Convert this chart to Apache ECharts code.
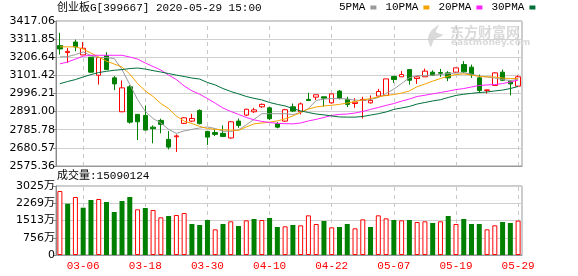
<!DOCTYPE html>
<html>
<head>
<meta charset="utf-8">
<script src="https://cdn.jsdelivr.net/npm/echarts@6/dist/echarts.min.js"></script>
<style>
    html, body { margin: 0; padding: 0; background: #fff; }
    #chart { width: 578px; height: 276px; }
</style>
</head>
<body>
<div id="chart"></div>
<script>
// 交易日
var dates = ['03-03','03-04','03-05','03-06','03-09','03-10','03-11','03-12','03-13','03-16',
    '03-17','03-18','03-19','03-20','03-23','03-24','03-25','03-26','03-27','03-30',
    '03-31','04-01','04-02','04-03','04-07','04-08','04-09','04-10','04-13','04-14',
    '04-15','04-16','04-17','04-20','04-21','04-22','04-23','04-24','04-27','04-28',
    '04-29','04-30','05-06','05-07','05-08','05-11','05-12','05-13','05-14','05-15',
    '05-18','05-19','05-20','05-21','05-22','05-25','05-26','05-27','05-28','05-29']

var opens = [3274,3234,3295,3220,3207,3102,3216,3087,2890,3035,2875,2869,2801,2840,2730,2745,2823,2836,2898,2776,
    2770,2765,2738,2836,2871,2890,2919,2913,2821,2836,2919,2890,2962,2975,2977,2942,3010,2962,2938,2956,
    2942,2981,2985,3095,3093,3135,3083,3093,3120,3118,3116,3120,3164,3149,3087,3014,3043,3120,3068,3039]
var closes = [3255,3241,3267,3259,3120,3205,3135,3052,3029,2830,2832,2784,2792,2817,2685,2750,2855,2851,2821,2743,
    2759,2747,2832,2811,2905,2901,2933,2850,2801,2902,2894,2936,2956,2989,2969,2994,2967,2933,2946,2962,
    2956,3008,3081,3077,3106,3073,3093,3126,3102,3114,3087,3145,3122,3106,3014,3017,3116,3073,3052,3093]
var lows = [3222,3174,3241,3220,3116,3048,3133,3016,2889,2821,2726,2782,2707,2765,2672,2657,2819,2830,2817,2697,
    2749,2743,2734,2797,2865,2884,2913,2842,2794,2832,2888,2875,2952,2958,2919,2938,2962,2917,2913,2851,
    2938,2981,2981,3058,3093,3048,3052,3093,3100,3093,3068,3116,3116,3087,3000,2996,3040,3068,2985,3038]
var highs = [3348,3261,3309,3295,3208,3207,3236,3097,3072,3045,2876,2927,2811,2850,2778,2759,2859,2878,2904,2776,
    2788,2811,2836,2851,2907,2913,2938,2919,2830,2907,2938,2944,3000,2989,2977,2994,3016,2977,2969,2977,
    2985,3023,3081,3095,3126,3136,3097,3141,3131,3139,3126,3145,3184,3164,3106,3019,3120,3135,3072,3101]

var ma5 = [3209,3210,3222,3238,3216,3205,3205,3199,3135,3048,2961,2892,2851,2825,2788,2765,2779,2788,2796,2802,
    2793,2778,2776,2785,2814,2846,2879,2879,2879,2879,2874,2886,2909,2956,2964,2967,2967,2964,2958,2956,
    2961,2973,2996,3022,3054,3088,3100,3100,3103,3106,3112,3115,3116,3109,3097,3092,3086,3077,3072,3077]
var ma10 = [3267,3267,3267,3254,3231,3208,3184,3167,3150,3109,3054,3011,2979,2938,2909,2865,2836,2822,2805,2793,
    2788,2785,2784,2782,2802,2820,2825,2830,2837,2849,2866,2886,2906,2918,2924,2928,2933,2941,2950,2959,
    2967,2976,2985,2990,2999,3011,3036,3051,3068,3083,3097,3106,3110,3103,3095,3093,3092,3086,3083,3083]
var ma20 = [3168,3179,3196,3213,3218,3218,3218,3218,3218,3208,3196,3173,3153,3132,3103,3077,3040,3012,2992,2967,
    2940,2912,2892,2875,2857,2843,2834,2828,2823,2821,2820,2825,2837,2846,2857,2869,2875,2877,2883,2892,
    2904,2915,2927,2938,2952,2964,2979,2986,2994,3002,3010,3019,3025,3034,3043,3046,3048,3054,3063,3074]
var ma30 = [3053,3066,3077,3092,3106,3118,3125,3131,3135,3141,3144,3138,3129,3121,3112,3103,3095,3086,3080,3060,
    3046,3025,3008,2994,2979,2968,2959,2944,2933,2924,2909,2895,2886,2877,2872,2866,2860,2859,2859,2863,
    2871,2879,2889,2904,2912,2921,2935,2944,2953,2960,2973,2985,2992,2997,3002,3005,3011,3016,3025,3037]

// 成交量(万)
var volumes = [2806,2249,2543,2074,2411,2455,2324,1885,2367,2543,2003,2060,1973,1652,1710,1754,1841,1359,1315,1534,
    1125,1359,1477,1271,1520,1578,1534,1622,1227,1257,1315,1301,1739,1359,1490,1213,1227,1359,1169,1563,
    1227,1739,1607,1534,1520,1534,1446,1477,1403,1477,1710,1359,1578,1359,1359,1125,1301,1446,1403,1509]
var volUp = [1,0,1,0,0,1,0,0,0,0,1,0,1,1,0,1,1,0,0,0,1,0,1,0,1,0,1,0,0,1,
    0,1,1,1,0,1,0,0,1,1,0,1,1,0,1,0,1,1,0,1,0,1,0,0,0,1,1,0,0,1]

var yTicks = ['2575.36','2680.57','2785.78','2891.00','2996.21','3101.42','3206.64','3311.85','3417.06']
var volTicks = ['0','756万','1513万','2269万','3025万']
var lastVolume = '15090124'
var titleText = '创业板G[399667] 2020-05-29 15:00'

var yMin = +yTicks[0]
var yMax = +yTicks[yTicks.length - 1]
var yStep = (yMax - yMin) / (yTicks.length - 1)
var volMax = 3025
var volStep = volMax / (volTicks.length - 1)

var kData = []
var volData = []
for (var i = 0; i < dates.length; i++) {
    kData.push([opens[i], closes[i], lows[i], highs[i]])
    volData.push({
        value: volumes[i],
        itemStyle: volUp[i]
            ? { color: '#ffffff', borderColor: '#ff0000', borderWidth: 1 }
            : { color: '#008000' }
    })
}

function showLabel(index) {
    return (index - 3) % 8 === 0
}
var vLines = dates.filter(function(d, i) { return showLabel(i) }).map(function(d) { return { xAxis: d } })

var monoFont = "'Liberation Mono', 'Noto Sans CJK SC', monospace"
var labelFont = "'DejaVu Sans', 'Noto Sans CJK SC', sans-serif"

function maSeries(name, data, color) {
    return {
        name: name,
        type: 'line',
        data: data,
        symbol: 'none',
        xAxisIndex: 0,
        yAxisIndex: 0,
        lineStyle: { color: color, width: 1 },
        itemStyle: { color: color },
        z: 7
    }
}

// 竖向虚线
function dashLines(axisIdx) {
    return {
        type: 'line',
        data: [],
        xAxisIndex: axisIdx,
        yAxisIndex: axisIdx,
        silent: true,
        z: 1,
        markLine: {
            silent: true,
            z: 1,
            symbol: 'none',
            label: { show: false },
            lineStyle: { type: [4, 4], color: '#c8c8c8', width: 1 },
            data: vLines
        }
    }
}

var myChart = echarts.init(document.getElementById('chart'))
var option = {
    animation: false,
    backgroundColor: '#ffffff',
    title: [
        {
            text: titleText,
            left: 57,
            top: 3,
            padding: 0,
            textStyle: { fontSize: 11, fontWeight: 'normal', color: '#000', fontFamily: monoFont }
        },
        {
            text: '成交量:' + lastVolume,
            left: 57,
            top: 171,
            padding: 0,
            textStyle: { fontSize: 11, fontWeight: 'normal', color: '#000', fontFamily: monoFont }
        }
    ],
    legend: {
        data: ['5PMA', '10PMA', '20PMA', '30PMA'],
        left: 339,
        top: 2,
        padding: 0,
        align: 'right',
        icon: 'rect',
        itemWidth: 6,
        itemHeight: 4,
        itemGap: 9,
        textStyle: { fontSize: 11, color: '#000', fontFamily: monoFont }
    },
    graphic: [
        {
            type: 'polygon',
            left: 428,
            top: 25,
            z: 0,
            silent: true,
            shape: {
                points: [[14, 0], [6, 6], [3, 14], [6, 22], [9, 15], [18, 10], [11, 7]],
                smooth: 0.3
            },
            style: { fill: '#dadada' }
        },
        {
            type: 'text',
            left: 450,
            top: 25,
            z: 0,
            silent: true,
            style: { text: '东方财富网', font: 'bold 14px "Noto Sans CJK SC"', fill: '#dadada' }
        },
        {
            type: 'text',
            left: 451,
            top: 38,
            z: 0,
            silent: true,
            style: { text: 'eastmoney.com', font: 'bold 9px "DejaVu Sans"', fill: '#dadada' }
        }
    ],
    grid: [
        { left: 56, right: 56, top: 21, height: 145, show: true, borderColor: '#999', borderWidth: 1 },
        { left: 56, right: 56, top: 186, height: 69, show: true, borderColor: '#999', borderWidth: 1 }
    ],
    xAxis: [
        {
            type: 'category',
            gridIndex: 0,
            data: dates,
            boundaryGap: true,
            axisLine: { lineStyle: { color: '#999' } },
            axisTick: { show: false },
            axisLabel: { show: false },
            splitLine: { show: false }
        },
        {
            type: 'category',
            gridIndex: 1,
            data: dates,
            boundaryGap: true,
            axisLine: { lineStyle: { color: '#999' } },
            axisTick: { show: false },
            axisLabel: {
                interval: showLabel,
                color: '#ff0000',
                fontSize: 11,
                fontFamily: monoFont,
                margin: 6
            },
            splitLine: { show: false }
        }
    ],
    yAxis: [
        {
            type: 'value',
            gridIndex: 0,
            min: yMin,
            max: yMax,
            interval: yStep,
            axisLine: { show: true, lineStyle: { color: '#888' } },
            axisTick: { show: true, length: 3, lineStyle: { color: '#888' } },
            axisLabel: {
                color: '#000',
                fontSize: 11,
                fontFamily: labelFont,
                margin: 1,
                formatter: function(v) {
                    return yTicks[Math.round((v - yMin) / yStep)]
                }
            },
            splitLine: { show: true, lineStyle: { color: '#d0d0d0', width: 1 } }
        },
        {
            type: 'value',
            gridIndex: 1,
            min: 0,
            max: volMax,
            interval: volStep,
            axisLine: { show: true, lineStyle: { color: '#888' } },
            axisTick: { show: true, length: 3, lineStyle: { color: '#888' } },
            axisLabel: {
                color: '#000',
                fontSize: 11,
                fontFamily: labelFont,
                margin: 1,
                formatter: function(v) {
                    return volTicks[Math.round(v / volStep)]
                }
            },
            splitLine: { show: true, lineStyle: { color: '#d0d0d0', width: 1 } }
        }
    ],
    series: [
        dashLines(0),
        dashLines(1),
        {
            name: 'K',
            type: 'candlestick',
            data: kData,
            xAxisIndex: 0,
            yAxisIndex: 0,
            barWidth: 5,
            z: 6,
            itemStyle: {
                color: '#ffffff',
                color0: '#008000',
                borderColor: '#ff0000',
                borderColor0: '#008000',
                borderWidth: 1
            }
        },
        maSeries('5PMA', ma5, '#9a9a9a'),
        maSeries('10PMA', ma10, '#f5a400'),
        maSeries('20PMA', ma20, '#ff22ff'),
        maSeries('30PMA', ma30, '#00703a'),
        {
            name: 'VOL',
            type: 'bar',
            data: volData,
            xAxisIndex: 1,
            yAxisIndex: 1,
            barWidth: 5,
            z: 6
        }
    ]
}
myChart.setOption(option)

window.addEventListener('resize', function() {
    myChart.resize()
})
</script>
</body>
</html>
